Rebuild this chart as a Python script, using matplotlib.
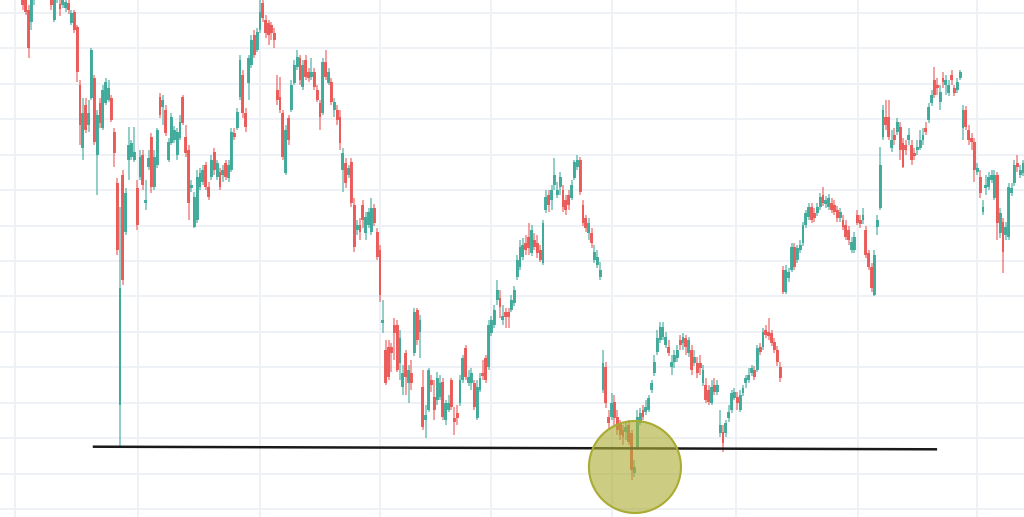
import numpy as np
import matplotlib
matplotlib.use("Agg")
import matplotlib.pyplot as plt
from matplotlib.patches import Ellipse

opens = [
522,527,522,507,495,517,537,532,547,537,
542,525,497,519,513,512,509,514,494,505,
490,432,369,412,392,419,439,362,414,389,
414,417,419,385,334,112,342,285,357,360,
357,329,340,362,314,350,380,330,352,420,
410,407,357,374,377,362,379,420,380,367,
329,290,297,330,335,352,330,340,365,340,
345,342,354,339,347,384,389,420,442,404,
434,452,482,467,487,514,497,494,492,484,
427,420,404,344,399,407,434,450,459,430,
457,445,440,445,427,414,404,455,434,435,
407,407,400,347,354,342,355,312,287,292,
312,284,292,285,309,285,267,194,167,170,
170,192,192,154,130,164,134,144,164,207,
185,130,97,107,137,120,117,120,135,97,
107,137,99,104,114,137,169,134,134,134,
99,127,144,159,150,184,192,217,219,197,
205,205,207,214,240,250,260,274,280,264,
277,274,267,254,307,322,317,332,322,330,
327,317,322,319,339,350,357,312,299,284,
284,257,252,240,127,150,100,100,115,100,
94,87,85,92,84,44,70,94,107,105,
107,127,144,165,177,180,172,170,150,155,
159,177,174,179,164,167,154,154,154,134,
132,127,114,132,125,84,85,84,99,107,
119,120,107,124,134,137,144,147,147,170,
170,187,185,184,175,167,150,247,225,239,
247,270,257,267,274,292,300,310,304,304,
310,322,313,310,314,312,307,299,297,292,
287,267,267,302,297,297,287,264,250,222,
290,309,380,400,400,369,382,385,390,374,
372,377,372,364,367,369,377,389,397,414,
437,432,415,439,432,424,442,429,427,439,
389,407,387,379,375,345,340,305,329,330,
337,319,342,284,295,282,280,324,334,354,342,344]

closes = [
537,512,505,469,522,532,527,547,535,552,
522,512,522,527,508,519,515,507,504,487,
445,392,404,387,404,467,375,402,394,427,
435,429,397,364,267,229,237,324,372,374,
365,292,360,332,317,359,330,360,387,402,
417,384,375,400,387,385,395,394,364,314,
332,320,340,344,347,330,320,357,347,354,
330,347,340,352,385,380,405,457,404,390,
459,477,462,485,505,499,484,482,484,477,
417,407,360,387,377,432,452,460,437,452,
440,439,445,430,417,400,455,440,445,415,
415,397,374,364,334,349,314,270,292,285,
297,300,305,309,294,260,222,197,134,140,
164,184,147,179,144,140,147,134,205,177,
197,90,102,147,132,107,139,134,100,114,
114,110,95,99,137,159,140,140,144,110,
130,139,141,137,192,197,207,227,210,201,
200,200,217,227,257,270,272,267,269,287,
270,264,257,294,320,312,327,342,327,340,
310,307,312,332,355,357,325,294,289,294,
274,265,260,247,154,114,94,114,99,87,
82,80,90,75,47,50,100,104,100,110,
119,134,155,179,190,190,180,164,155,162,
167,172,180,170,177,147,160,144,149,147,
117,115,130,125,132,92,74,94,105,124,
125,114,122,129,139,142,149,140,169,165,
185,182,181,174,167,155,139,225,247,245,
270,250,269,272,292,304,310,297,299,310,
320,314,317,319,307,305,299,305,290,280,
277,275,280,294,293,302,262,250,229,262,
297,352,407,392,380,377,377,395,367,350,
367,382,357,361,370,377,382,385,410,422,
422,429,425,435,437,432,437,424,435,445,
407,390,377,375,347,349,324,310,332,340,
342,342,294,304,265,290,330,329,352,350,347,354]

highs = [
542,532,527,512,527,537,542,552,552,557,
547,529,527,532,517,522,519,517,507,507,
492,437,419,419,417,469,442,407,419,432,
439,437,422,389,339,310,347,329,390,377,
390,337,367,367,337,367,384,367,389,424,
422,412,379,404,391,389,402,422,392,372,
337,325,347,349,352,355,335,362,369,357,
349,352,357,357,389,389,409,462,447,409,
462,482,487,489,520,520,502,497,495,489,
442,440,407,392,402,437,457,467,462,457,
462,449,459,449,432,417,459,467,449,439,
419,412,407,369,359,352,359,319,297,299,
317,305,309,319,313,289,272,217,177,177,
174,199,197,187,152,167,152,157,209,209,
202,147,112,149,142,137,145,142,139,117,
122,139,110,112,142,162,172,147,149,137,
137,144,157,162,197,201,212,237,227,212,
209,209,222,231,262,277,279,282,294,292,
284,282,272,297,327,327,332,359,335,345,
332,322,327,337,357,362,360,317,302,299,
289,272,267,255,167,155,107,124,122,107,
97,92,94,97,87,57,107,109,112,117,
122,137,162,187,195,195,185,177,162,167,
172,182,184,182,180,172,167,160,162,152,
139,132,137,139,137,107,92,97,112,127,
129,125,127,132,142,149,152,151,172,174,
189,192,199,187,179,171,155,251,252,249,
274,274,272,277,295,307,314,314,309,314,
324,330,321,323,319,317,311,309,302,297,
291,280,285,307,302,309,291,267,254,267,
302,370,412,417,417,387,389,399,395,379,
377,389,377,369,377,387,389,395,414,427,
450,439,432,445,442,437,447,432,439,447,
412,411,392,384,379,354,347,317,342,345,
347,347,345,309,299,295,334,334,357,362,352,357]

lows = [
517,507,502,459,487,512,522,527,529,532,
517,507,495,514,501,509,505,503,492,484,
435,372,357,384,385,417,372,322,389,387,
412,415,395,350,262,71,232,282,337,357,
355,287,337,327,307,347,324,327,349,399,
392,381,355,372,374,357,377,392,360,297,
325,289,294,327,332,327,317,337,342,337,
327,335,337,335,345,377,387,417,399,385,
417,449,459,465,484,495,479,472,477,469,
412,404,357,342,372,405,432,447,432,427,
437,435,437,427,415,387,402,437,432,412,
400,392,367,325,329,339,310,265,282,277,
289,277,289,282,291,257,215,184,132,137,
145,157,145,137,122,122,114,127,161,172,
159,87,79,105,125,97,112,117,97,92,
105,107,82,92,111,134,137,131,127,107,
97,125,137,134,147,181,189,212,199,192,
189,189,205,211,237,247,257,262,262,261,
267,259,255,252,304,305,307,327,319,322,
305,302,307,317,337,347,322,291,285,277,
269,254,249,237,124,109,87,97,92,82,
77,72,77,72,37,40,67,92,97,102,
105,124,141,162,174,177,169,161,142,149,
155,167,167,162,160,142,151,139,142,131,
114,112,112,122,122,80,65,80,95,104,
117,107,105,121,129,134,141,137,145,162,
167,179,177,171,164,151,135,223,223,235,
245,247,254,264,271,289,297,294,295,301,
307,311,309,307,304,302,295,295,287,277,
272,264,264,292,289,293,259,247,225,221,
282,307,377,387,377,365,372,382,357,349,
362,372,352,357,362,367,372,382,394,411,
419,422,407,429,422,421,432,421,424,437,
377,387,372,367,335,342,319,302,322,327,
334,317,277,279,244,277,277,321,331,345,339,341]

# support line (start/end in candle index and price) and highlighted area
support_x = [25.9, 320.5]
support_y = [70.3, 67.7]
circle_center = (215.2, 50.0)

assert len(opens) == len(closes) == len(highs) == len(lows)
n = len(opens)

W, H = 1024, 517
fig = plt.figure(figsize=(W / 100, H / 100), dpi=100)
ax = fig.add_axes([0, 0, 1, 1])

dx = 1003.0 / (n - 1)          # pixels per candle
ax.set_xlim(-20.0 / dx, (W - 20.0) / dx)
ax.set_ylim(0, H)

# grid
xgrid = [-1.75, 41.3, 84.0, 126.0, 164.8, 207.1, 250.5, 293.2, 334.9]
ygrid = 8 + 35.43 * np.arange(15)
for gx in xgrid:
    ax.axvline(gx, color="#edf1f6", lw=1.3, zorder=0)
for gy in ygrid:
    ax.axhline(gy, color="#edf1f6", lw=1.3, zorder=0)

o = np.array(opens, float)
c = np.array(closes, float)
hi = np.array(highs, float)
lo = np.array(lows, float)
x = np.arange(n)
up = c >= o
col = np.where(up, "#3aa898", "#ea5553")

ax.vlines(x, lo, hi, colors=col, lw=1.3, alpha=0.6, zorder=2)
body = np.maximum(np.abs(c - o), 2.5)
bottom = np.minimum(o, c)
ax.bar(x, body, bottom=bottom, width=1.0, color=col, alpha=0.92,
       linewidth=0, zorder=3)

ax.plot(support_x, support_y, color="#1a1a1a", lw=1.8, zorder=4)

circ = Ellipse(circle_center, width=92 / dx, height=92,
               facecolor=(0.68, 0.68, 0.22, 0.62), edgecolor="#a9ab33",
               lw=1.5, zorder=5)
ax.add_patch(circ)

for s in ax.spines.values():
    s.set_visible(False)
ax.set_xticks([])
ax.set_yticks([])
fig.savefig("out.png", dpi=100, facecolor="white")
